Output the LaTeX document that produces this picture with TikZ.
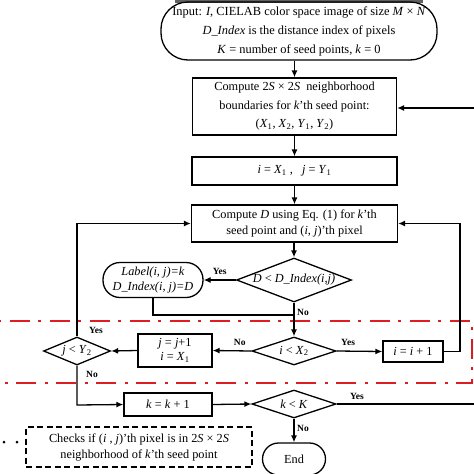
\documentclass[tikz,border=0pt]{standalone}
\usepackage{fontspec}
\setmainfont{Liberation Serif}
\usetikzlibrary{shapes.geometric,arrows.meta}
\tikzset{
  base/.style={draw, line width=1.3pt, inner sep=0pt, align=center, font=\fontsize{12.3}{16}\selectfont},
  proc/.style={base, rectangle},
  term/.style={base, rectangle, rounded corners=#1},
  dec/.style={base, diamond},
  lbl/.style={font=\fontsize{9.5}{10}\selectfont\bfseries, inner sep=0pt},
  arr/.style={line width=1.3pt, -{Latex[length=7pt,width=6pt]}},
  ln/.style={line width=1.3pt},
  reddash/.style={draw={rgb,255:red,220;green,30;blue,35}, line width=2.6pt, dash pattern=on 20pt off 8pt on 3pt off 9pt},
}
\newcommand{\sub}[1]{\textsubscript{#1}}
\begin{document}
\begin{tikzpicture}[x=1pt,y=-1pt]
\useasboundingbox (0,0) rectangle (474,474);
\clip (0,0) rectangle (474,474);
\fill[gray!75!black] (175,0) rectangle (423,3);
\node[term=27pt, minimum width=276pt, minimum height=58pt, font=\fontsize{12.4}{19}\selectfont] (start) at (299,31)
  {Input: \textit{I}, CIELAB color space image of size \textit{M} × \textit{N}\\
   \textit{D\_Index} is the distance index of pixels\\
   \textit{K} = number of seed points, \textit{k} = 0};
\node[proc, minimum width=204pt, minimum height=57pt, font=\fontsize{12.3}{18.5}\selectfont] (cb) at (294.5,106.5)
  {Compute 2\textit{S} × 2\textit{S}\ \ neighborhood\\
   boundaries for \textit{k}’th seed point:\\
   (\textit{X}\sub{1}, \textit{X}\sub{2}, \textit{Y}\sub{1}, \textit{Y}\sub{2})};
\node[proc, minimum width=205pt, minimum height=28pt] (init) at (294.5,171)
  {\textit{i} = \textit{X}\sub{1} ,\ \ \ \textit{j} = \textit{Y}\sub{1}};
\node[proc, minimum width=206pt, minimum height=37pt] (cd) at (294.5,223.5)
  {Compute \textit{D} using Eq. (1) for \textit{k}’th\\
   seed point and (\textit{i}, \textit{j})’th pixel};
\node[dec, minimum width=115pt, minimum height=44pt] (d1) at (294,280)
  {\makebox[0pt]{\textit{D} < \textit{D\_Index(i,j)}}};
\node[term=17pt, minimum width=100pt, minimum height=35pt, font=\fontsize{12.3}{15}\selectfont] (lab) at (153,280)
  {\textit{Label(i, j)=k}\\ \textit{D\_Index(i, j)=D}};
\node[dec, minimum width=84pt, minimum height=28pt] (d2) at (294,351)
  {\makebox[0pt]{\textit{i} < \textit{X}\sub{2}}};
\node[proc, minimum width=60pt, minimum height=21pt] (inc) at (413,351.5)
  {\textit{i} = \textit{i} + 1};
\node[proc, minimum width=74pt, minimum height=33pt, font=\fontsize{12.3}{14}\selectfont] (jb) at (175,350.5)
  {\textit{j} = \textit{j}+1\\ \textit{i} = \textit{X}\sub{1}};
\node[dec, minimum width=67pt, minimum height=28pt] (d3) at (77,351)
  {\makebox[0pt]{\textit{j} < \textit{Y}\sub{2}}};
\node[proc, minimum width=88pt, minimum height=23pt] (kb) at (168,404.5)
  {\textit{k} = \textit{k} + 1};
\node[dec, minimum width=84pt, minimum height=28pt] (d4) at (294,404)
  {\makebox[0pt]{\textit{k} < \textit{K}}};
\node[term=16pt, minimum width=63pt, minimum height=32pt] (end) at (294,459) {End};
\node[proc, dash pattern=on 6pt off 3.5pt, minimum width=226pt, minimum height=40pt] (note) at (139,447)
  {Checks if (\textit{i} , \textit{j})’th pixel is in 2\textit{S} × 2\textit{S}\\
   neighborhood of \textit{k}’th seed point};
% legend dots
\fill (4,442) circle (1.5pt);
\fill (17,442) circle (1.5pt);
% red dash-dot region
\draw[reddash] (-30,321) -- (472,321) -- (472,383) -- (-30,383);
% coordinates
\coordinate (m) at (294,315);
\coordinate (r1) at (460,351.5);
\coordinate (r2) at (460,223.5);
\coordinate (l1) at (77,223.5);
\coordinate (l2) at (77,405);
\coordinate (k1) at (490,404);
\coordinate (k2) at (490,108);
% connectors
\draw[arr] (start.south -| cb.north) -- (cb.north);
\draw[arr] (cb) -- (init);
\draw[arr] (init) -- (cd);
\draw[arr] (cd.south -| d1.north) -- (d1.north);
\draw[arr] (d1.west) -- node[lbl, above=5pt] {Yes} (lab.east);
\draw[ln] (lab.south) |- (m);
\draw[arr] (d1.south) -- (d2.north);
\node[lbl] (no1) at (303,312) {No};
\draw[arr] (d2.east) -- node[lbl, above=5pt, pos=0.25] {Yes} (inc.west);
\draw[arr] (inc.east) -- (r1) -- (r2) -- (cd.east);
\draw[arr] (d2.west) -- node[lbl, above=5pt, pos=0.3] {No} (jb.east);
\draw[arr] (jb.west) -- (d3.east);
\draw[arr] (d3.north) -- (l1) -- (cd.west);
\node[lbl] (yes3) at (96,330) {Yes};
\draw[arr] (d3.south) -- (l2) -- (kb.west);
\node[lbl] (no3) at (92,374) {No};
\draw[arr] (kb.east) -- (d4.west);
\draw[arr] (d4.east) -- (k1) -- (k2) -- (cb.east |- k2);
\node[lbl] (yes4) at (357,396) {Yes};
\draw[arr] (d4.south) -- (end.north);
\node[lbl] (no4) at (303,428) {No};
\end{tikzpicture}
\end{document}
